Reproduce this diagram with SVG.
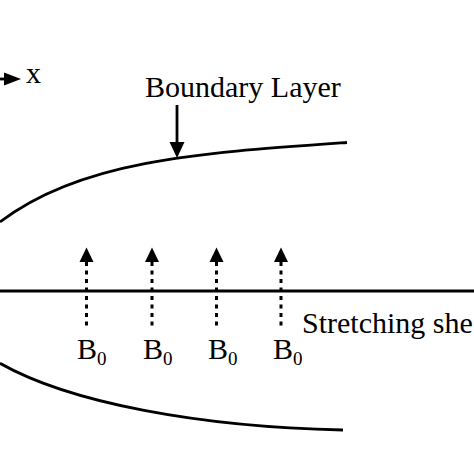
<svg xmlns="http://www.w3.org/2000/svg" width="474" height="474" viewBox="0 0 474 474">
<style>
text{font-family:"Liberation Serif","Times New Roman",serif;fill:#000}
.t{font-size:30px}
.s{font-size:19px}
.ln{stroke:#000;stroke-width:2.8;fill:none}
.dash{stroke:#000;stroke-width:3;stroke-dasharray:4 4.5;fill:none}
.head{fill:#000}
</style>
<rect width="474" height="474" fill="#fff"/>
<g id="axis-x">
<line x1="0" y1="79" x2="8" y2="79" class="ln"/>
<polygon class="head" points="4,72.5 21,79 4,85.5"/>
<text class="t" x="26" y="83">x</text>
</g>
<g id="boundary-layer-label">
<text class="t" x="145" y="97">Boundary Layer</text>
</g>
<g id="boundary-layer-top">
<path class="ln" d="M0,222 C80,160.4 197,153 347,142.5"/>
</g>
<g id="boundary-layer-bottom">
<path class="ln" d="M0,363.3 C70,403 200,427 343,430"/>
</g>
<g id="sheet">
<line x1="0" y1="291" x2="474" y2="291" class="ln"/>
<text class="t" x="302" y="333">Stretching she</text>
</g>
<g id="B0-1">
<text class="t" x="77" y="359">B</text><text class="s" x="97" y="365">0</text>
</g>
<g id="B0-2">
<text class="t" x="143" y="359">B</text><text class="s" x="163" y="365">0</text>
</g>
<g id="B0-3">
<text class="t" x="208" y="359">B</text><text class="s" x="228" y="365">0</text>
</g>
<g id="B0-4">
<text class="t" x="273" y="359">B</text><text class="s" x="293" y="365">0</text>
</g>
<g id="connectors">
<line x1="177" y1="105" x2="177" y2="143" class="ln"/>
<polygon class="head" points="169.5,142 184.5,142 177,158"/>
<line x1="86.5" y1="262" x2="86.5" y2="330" class="dash"/>
<polygon class="head" points="79.5,262 93.5,262 86.5,247.5"/>
<line x1="152" y1="262" x2="152" y2="330" class="dash"/>
<polygon class="head" points="145,262 159,262 152,247.5"/>
<line x1="216.5" y1="262" x2="216.5" y2="330" class="dash"/>
<polygon class="head" points="209.5,262 223.5,262 216.5,247.5"/>
<line x1="281" y1="262" x2="281" y2="330" class="dash"/>
<polygon class="head" points="274,262 288,262 281,247.5"/>
</g>
</svg>
